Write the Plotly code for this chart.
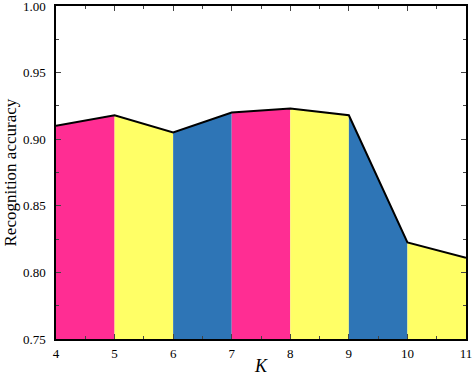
import plotly.graph_objects as go

k_values = [4, 5, 6, 7, 8, 9, 10, 11]
accuracy = [0.910, 0.918, 0.905, 0.920, 0.923, 0.918, 0.8225, 0.811]
segment_colors = ["#FF2D93", "#FFFF66", "#2E75B6", "#FF2D93", "#FFFF66", "#2E75B6", "#FFFF66"]
y_ticks = [0.75, 0.80, 0.85, 0.90, 0.95, 1.00]
y_tick_labels = ["0.75", "0.80", "0.85", "0.90", "0.95", "1.00"]

fig = go.Figure()
for i, c in enumerate(segment_colors):
    fig.add_trace(go.Scatter(
        x=[k_values[i], k_values[i + 1]], y=[accuracy[i], accuracy[i + 1]],
        mode="lines", line=dict(width=0, color=c), fill="tozeroy", fillcolor=c,
        showlegend=False, hoverinfo="skip"))
fig.add_trace(go.Scatter(x=k_values, y=accuracy, mode="lines",
                         line=dict(color="black", width=2), showlegend=False))

font = "Liberation Serif, Times New Roman, serif"
axis_common = dict(ticks="inside", ticklen=5, tickwidth=1.2, showline=True, linecolor="black",
                   linewidth=1.5, mirror="ticks", showgrid=False, zeroline=False,
                   automargin=False, tickfont=dict(family=font, size=13, color="black"),
                   ticklabeloverflow="allow")
fig.update_layout(
    width=474, height=377,
    margin=dict(l=56, r=8, t=6, b=38),
    paper_bgcolor="white", plot_bgcolor="white",
    font=dict(family=font, size=13, color="black"),
    xaxis=dict(range=[4, 11], tickmode="array", tickvals=k_values, ticklabelstandoff=2,
               minor=dict(ticks="inside", ticklen=3, dtick=0.5, tick0=4, showgrid=False),
               **axis_common),
    yaxis=dict(range=[0.75, 1.0], tickmode="array", tickvals=y_ticks, ticktext=y_tick_labels,
               ticklabelstandoff=6,
               minor=dict(ticks="inside", ticklen=3, dtick=0.025, tick0=0.75, showgrid=False),
               **axis_common),
    annotations=[
        dict(text="Recognition accuracy", xref="paper", yref="paper", x=0, y=0.5,
             xshift=-46, textangle=-90, showarrow=False, xanchor="center", yanchor="middle",
             font=dict(family=font, size=17, color="black")),
        dict(text="<i>K</i>", xref="paper", yref="paper", x=0.5, y=0, yshift=-27,
             showarrow=False, xanchor="center", yanchor="middle",
             font=dict(family=font, size=18, color="black")),
    ],
)
fig.write_html("out.html", config={"displayModeBar": False},
               post_script="document.body.style.margin='0';document.body.style.overflow='hidden';")
